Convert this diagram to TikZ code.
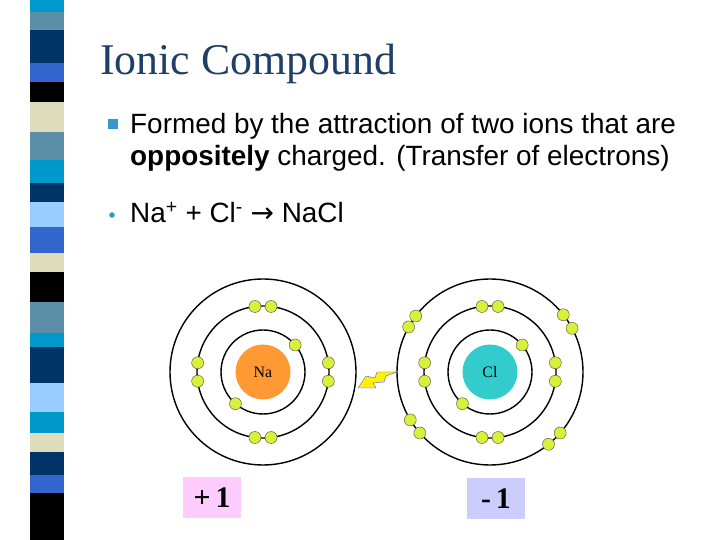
\documentclass[tikz,border=0pt]{standalone}
\usepackage{fontspec}
\setmainfont{Liberation Serif}
\setsansfont{Liberation Sans}
\newfontfamily\arrowfont{DejaVu Sans}
\usetikzlibrary{positioning}
\definecolor{cyanblue}{HTML}{0099CC}
\definecolor{greyblue}{HTML}{5B8FA8}
\definecolor{navy}{HTML}{003366}
\definecolor{royal}{HTML}{3366CC}
\definecolor{beige}{HTML}{DDDDBB}
\definecolor{lightblue}{HTML}{99CCFF}
\definecolor{titleblue}{HTML}{1F3F66}
\definecolor{bullet}{HTML}{3399CC}
\definecolor{naorange}{HTML}{FF9933}
\definecolor{clteal}{HTML}{33CCCC}
\definecolor{elec}{HTML}{D8F03A}
\definecolor{pluspink}{HTML}{FFCCFF}
\definecolor{minuslav}{HTML}{CCCCFF}
\begin{document}
\begin{tikzpicture}[x=1bp,y=1bp]
            \tikzstyle{electron}=[circle, draw=black!70, thin, fill=elec, minimum size=12bp, inner sep=0pt]
            \tikzstyle{ring}=[line width=1.4bp]
            \tikzstyle{nucleus}=[circle, minimum size=55bp, inner sep=0pt, font=\fontsize{16}{16}\selectfont]
            \tikzstyle{charge}=[minimum width=58bp, minimum height=41bp, font=\bfseries\fontsize{30}{30}\selectfont]
            \tikzstyle{bodytext}=[anchor=base west, inner sep=0pt, font=\sffamily\fontsize{28}{28}\selectfont]

            \useasboundingbox (0,0) rectangle (720,540);

            % side strip
            \foreach \ya/\yb/\col in {0/12/cyanblue, 12/30/greyblue, 30/63/navy, 63/82/royal,
                82/102/black, 102/132/beige, 132/160/greyblue, 160/183/cyanblue, 183/202/navy,
                202/227/lightblue, 227/253/royal, 253/272/beige, 272/302/black, 302/333/greyblue,
                333/347/cyanblue, 347/383/navy, 383/412/lightblue, 412/433/cyanblue, 433/452/beige,
                452/475/navy, 475/493/royal, 493/540/black}
                \fill[\col] (30,540-\ya) rectangle (64,540-\yb);

            \node[anchor=base west, inner sep=0pt, text=titleblue, font=\fontsize{44}{44}\selectfont] (title) at (100,465) {Ionic Compound};

            \node[bodytext] (line1) at (130,406) {Formed by the attraction of two ions that are};
            \node[bodytext] (line2) at (130,374) {\textbf{oppositely} charged. (Transfer of electrons)};
            \node[bodytext] (line3) at (130,317) {Na\textsuperscript{+} + Cl\textsuperscript{-} {\arrowfont →} NaCl};
            \fill[bullet] (108,411) rectangle (118,421);
            \fill[bullet] (112,325) circle (2.8);

            \node[nucleus, fill=naorange] (na) at (263,168) {Na};
            \node[nucleus, fill=clteal] (cl) at (490,168) {Cl};
            \foreach \atom in {na,cl}
                \foreach \r in {42,66,93}
                    \draw[ring] (\atom) circle (\r);

            % inner and middle shells
            \foreach \atom in {na,cl} {
                \foreach \a in {40,229}
                    \node[electron] at ([shift={(\a:42)}]\atom) {};
                \foreach \a in {83,97,172,188,8,-8,263,277}
                    \node[electron] at ([shift={(\a:66)}]\atom) {};
            }
            % outer shell of chlorine
            \foreach \a in {28,38,143,151,-139,-149,-41,-51}
                \node[electron] at ([shift={(\a:93)}]cl) {};

            % transferred electron
            \filldraw[fill=yellow, draw=blue!70, thin] (358,152) -- (366,164) -- (375,162) -- (377,168)
                -- (397,168) -- (386,164) -- (384,158) -- (373,157) -- (376,152) -- cycle;

            \node[charge, fill=pluspink] (plus) at (212,42) {+\,1};
            \node[charge, fill=minuslav] (minus) at (496,41) {-\,1};
        \end{tikzpicture}
\end{document}
